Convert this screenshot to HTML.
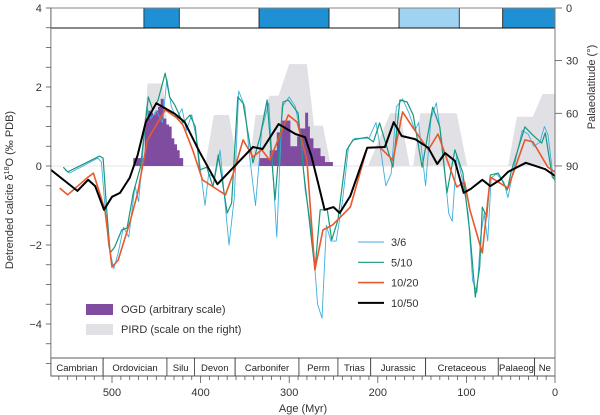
<!DOCTYPE html>
<html><head><meta charset="utf-8"><style>
html,body{margin:0;padding:0;background:#fff;}
svg{display:block;font-family:"Liberation Sans",Arial,sans-serif;}
</style></head><body>
<svg id="chart" width="600" height="415" viewBox="0 0 600 415" xmlns="http://www.w3.org/2000/svg"></svg>
<script>
// ---- data ----
const climateAges = [464,424,334,255,176,108,59,0];
const climateModes = ['warm','ice','warm','ice','warm','cool','warm','ice'];
const periodNames = ['Cambrian','Ordovician','Silu','Devon','Carbonifer','Perm','Trias','Jurassic','Cretaceous','Palaeog','Ne'];
const periodBounds = [569,510,438,407,361,289,245,208,146,64,23,0];
const yTicksMajor = [4,2,0,-2,-4];
const latTicks = [0,30,60,90];
const xTicks = [500,400,300,200,100,0];
const pirdAges = [465,460,443,438,432,395,385,368,358,345,338,330,322,312,300,280,272,262,253,211,186,175,164,160,152,111,99,53,43,25,14,0];
const pirdLat  = [90,43,43,65,90,90,61,61,90,90,61,61,50,50,32,32,67,67,90,90,60,60,90,90,60,60,90,90,62,62,49,49];
const ogdFrom = [476,463,460,457,454,451,448,445,442,439,436,433,430,427,424,334,322,314,308,299,291,288,282,279,277,273,265,260];
const ogdTo   = [463,460,457,454,451,448,445,442,439,436,433,430,427,424,420,322,314,308,299,291,288,282,279,277,273,265,260,251];
const ogdVal  = [0.2,1.2,1.4,1.35,1.3,1.4,1.5,1.7,1.2,1.05,1.0,0.7,0.55,0.4,0.2,0.2,0.4,0.85,1.15,0.5,0.75,0.95,1.35,1.0,0.7,0.45,0.25,0.1];
const s36Ages = [553,548,516,512,508,504,498,493,487,481,474,470,466,461,456,450,443,438,433,427,421,416,410,404,399,395,391,384,378,368,362,357,350,345,338,331,323,314,308,300,293,287,282,277,273,268,263,258,253,247,240,233,226,210,202,196,191,185,179,172,165,158,154,146,140,134,127,120,116,111,105,98,93,88,84,80,76,72,66,58,53,48,37,30,24,17,12,8,3,0];
const s36Vals = [-0.1,-0.18,0.2,0.1,-1.0,-2.0,-2.6,-2.2,-1.55,-1.8,-0.5,-0.9,0.1,1.5,1.2,1.4,1.1,2.2,1.5,1.2,1.45,0.9,1.3,0.6,-0.3,-1.0,-0.2,-0.3,0.4,-2.0,-0.8,1.9,1.5,0.3,-1.0,0.9,1.6,-1.8,1.5,1.75,1.5,0.8,-0.6,-1.3,-2.0,-3.5,-3.85,-1.5,-1.9,-1.9,-0.9,0.5,0.7,0.7,1.1,0.3,-0.5,-0.2,1.5,1.7,1.35,0.9,1.1,-0.5,1.2,1.6,0.5,-1.2,-1.4,0.3,-0.3,-1.2,-2.9,-3.2,-1.8,-1.2,-1.9,-0.3,-0.2,-0.4,-0.8,-0.2,0.9,0.8,0.5,0.6,1.0,0.8,-0.1,-0.4];
const s510Ages = [555,550,514,510,506,502,497,489,483,476,468,459,454,448,440,435,429,420,412,406,401,393,386,380,370,365,358,352,341,333,325,316,307,301,290,284,279,271,265,257,252,245,235,228,212,205,198,183,175,167,160,150,138,130,122,113,104,96,90,85,82,77,73,64,54,49,34,25,15,11,3,0];
const s510Vals = [-0.03,-0.15,0.25,0.2,-1.11,-2.2,-2.05,-1.62,-1.57,-0.68,-0.03,1.75,1.42,1.67,2.35,1.75,1.54,1.09,1.29,0.99,-0.1,-0.03,-0.53,0.28,-1.19,-0.94,1.75,1.59,0.08,0.73,1.67,-0.86,1.62,1.67,1.34,-0.1,-1.04,-2.63,-1.11,-1.11,-1.87,-1.37,0.41,0.66,0.73,0.61,1.09,-0.03,1.67,1.62,1.29,-0.03,1.49,0.99,-0.68,0.41,-0.18,-1.7,-3.32,-2.56,-1.04,-1.29,-0.23,-0.18,-0.61,-0.1,0.99,0.78,0.58,0.84,-0.28,-0.35];
const s1020Ages = [559,550,528,521,508,500,493,480,471,460,440,427,420,409,398,389,372,363,352,341,331,322,301,291,280,271,262,251,231,212,198,183,172,160,143,132,111,102,96,82,73,53,34,25,8,0];
const s1020Vals = [-0.56,-0.73,-0.3,-0.18,-1.11,-2.56,-2.38,-1.44,-0.68,0.66,1.42,1.22,1.04,0.41,-0.35,-0.48,-0.73,-0.18,0.66,0.23,0.41,0.15,1.29,1.11,0.15,-2.63,-1.62,-1.49,-1.04,0.46,0.48,0.15,1.37,0.96,0.41,0.81,-0.53,-0.41,-1.11,-2.2,-0.28,-0.56,0.66,0.61,-0.03,-0.15];
const s1050Ages = [569,539,527,519,509,500,491,480,471,462,450,429,418,401,381,341,330,312,293,282,275,267,260,250,243,231,212,192,182,173,158,143,133,124,113,103,95,82,73,62,53,33,11,0];
const s1050Vals = [-0.1,-0.63,-0.35,-0.51,-1.11,-0.78,-0.68,-0.3,0.28,1.11,1.59,1.32,1.11,0.35,-0.46,0.48,0.43,1.06,0.81,0.73,0.25,-0.46,-1.11,-1.04,-1.19,-0.76,0.46,0.48,1.11,0.76,0.68,0.46,0.05,0.33,0.13,-0.68,-0.58,-0.35,-0.51,-0.35,-0.15,0.08,-0.08,-0.25];

// ---- scales ----
const X0=555, PX=0.886, Y0=166, PV=39.5;
function xA(a){return X0-a*PX;}
function yV(v){return Y0-v*PV;}
function yL(l){return 8+l*1.755;}
const svg=document.getElementById('chart');
const NS='http://www.w3.org/2000/svg';
function mk(tag,attrs,parent){const e=document.createElementNS(NS,tag);for(const k in attrs)e.setAttribute(k,attrs[k]);(parent||svg).appendChild(e);return e;}
const LEFT=xA(569);

const zl=mk('line',{x1:LEFT,x2:X0,y1:yV(0),y2:yV(0),stroke:'#e6e6ea','stroke-width':1});



let d='M'+xA(pirdAges[0])+','+yL(90);
for(let i=0;i<pirdAges.length;i++)d+=' L'+xA(pirdAges[i])+','+yL(pirdLat[i]);
d+=' L'+xA(pirdAges[pirdAges.length-1])+','+yL(90)+' Z';
const pp=mk('path',{d:d,fill:'#e0e0e5',stroke:'none'});



for(let i=0;i<ogdVal.length;i++){
  const x1=xA(ogdFrom[i]),x2=xA(ogdTo[i]);
  const r=mk('rect',{x:x1,y:yV(ogdVal[i]),width:x2-x1+0.3,height:ogdVal[i]*PV,fill:'#7f4c9f'});
  
  
}

function line(ages,vals,color,w,name){
  let p='';for(let i=0;i<ages.length;i++)p+=(i?' L':'M')+xA(ages[i]).toFixed(1)+','+yV(vals[i]).toFixed(1);
  const e=mk('path',{d:p,fill:'none',stroke:color,'stroke-width':w,'stroke-linejoin':'round'});
  
  
}
line(s36Ages,s36Vals,'#3eaee0',0.9,'series-3-6');
line(s510Ages,s510Vals,'#17987a',1.2,'series-5-10');
line(s1020Ages,s1020Vals,'#e8582e',1.6,'series-10-20');
line(s1050Ages,s1050Vals,'#000',2,'series-10-50');

const colors={ice:'#1f90d4',warm:'#fff',cool:'#9fd3f1'};
for(let i=0;i<climateModes.length;i++){
  const x1=i===0?LEFT:xA(climateAges[i-1]), x2=i===0?xA(climateAges[0]):xA(climateAges[i]);
  const r=mk('rect',{x:x1,y:8,width:x2-x1,height:20,fill:colors[climateModes[i]],stroke:'#222','stroke-width':0.8});
  
  
}
const tb=mk('line',{x1:LEFT,x2:X0,y1:28,y2:28,stroke:'#111','stroke-width':1});



for(let i=0;i<periodNames.length;i++){
  const x1=xA(periodBounds[i]),x2=xA(periodBounds[i+1]);
  const r=mk('rect',{x:x1,y:358,width:x2-x1,height:18,fill:'#fff',stroke:'#333','stroke-width':0.8});
  
  
  const t=mk('text',{x:(x1+x2)/2,y:371,'font-size':9.5,'text-anchor':'middle',fill:'#222'});
  t.textContent=periodNames[i];
  
  
}

const la=mk('line',{x1:LEFT,x2:LEFT,y1:8,y2:376,stroke:'#777','stroke-width':1});


const ra=mk('line',{x1:X0,x2:X0,y1:8,y2:376,stroke:'#777','stroke-width':1});


const ta=mk('line',{x1:LEFT,x2:X0,y1:8,y2:8,stroke:'#999','stroke-width':0.8});


const ba=mk('line',{x1:LEFT,x2:X0,y1:376,y2:376,stroke:'#555','stroke-width':1});



for(let v=4;v>=-5;v-=0.5){
  const t=mk('line',{x1:LEFT-5,x2:LEFT,y1:yV(v),y2:yV(v),stroke:'#555','stroke-width':0.8});
  
  
}
yTicksMajor.forEach(v=>{
  const t=mk('text',{x:LEFT-9,y:yV(v)+4,'font-size':11,'text-anchor':'end',fill:'#333'});
  t.textContent=v<0?'\u2212'+Math.abs(v):String(v);
  
  
});
latTicks.forEach(l=>{
  const t=mk('line',{x1:X0,x2:X0+7,y1:yL(l),y2:yL(l),stroke:'#555','stroke-width':0.8});
  
  
  const tx=mk('text',{x:X0+11,y:yL(l)+4,'font-size':11,fill:'#333'});
  tx.textContent=String(l);
  
  
});
for(let a=560;a>=0;a-=10){
  const major=a%100===0;
  const t=mk('line',{x1:xA(a),x2:xA(a),y1:376,y2:major?383:380,stroke:'#555','stroke-width':0.8});
  
  
}
xTicks.forEach(a=>{
  const t=mk('text',{x:xA(a),y:396,'font-size':11,'text-anchor':'middle',fill:'#333'});
  t.textContent=String(a);
  
  
});
const xt=mk('text',{x:303,y:412,'font-size':11,'text-anchor':'middle',fill:'#333'});
xt.textContent='Age (Myr)';


const yt=mk('text',{transform:'translate(13,190) rotate(-90)','font-size':11,'text-anchor':'middle',fill:'#333'});
yt.innerHTML='Detrended calcite \u03b4<tspan font-size="7" dy="-4">18</tspan><tspan dy="4">O (\u2030 PDB)</tspan>';


const rt=mk('text',{transform:'translate(595,87) rotate(-90)','font-size':11,'text-anchor':'middle',fill:'#333'});
rt.textContent='Palaeolatitude (\u00b0)';



const leg=[['3/6','#3eaee0',0.9],['5/10','#17987a',1.2],['10/20','#e8582e',1.6],['10/50','#000',2]];
leg.forEach((l,i)=>{
  const y=242+i*20.3;
  const ln=mk('line',{x1:358,x2:384,y1:y,y2:y,stroke:l[1],'stroke-width':l[2]});
  
  
  const t=mk('text',{x:391,y:y+4,'font-size':11,fill:'#333'});
  t.textContent=l[0];
  
  
});
const s1=mk('rect',{x:86,y:304,width:27,height:11,fill:'#7f4c9f'});


const s2=mk('rect',{x:86,y:324,width:27,height:11,fill:'#e0e0e5'});


const l1=mk('text',{x:121,y:313,'font-size':11,fill:'#333'});
l1.textContent='OGD (arbitrary scale)';


const l2=mk('text',{x:121,y:333,'font-size':11,fill:'#333'});
l2.textContent='PIRD (scale on the right)';


</script>
</body></html>
